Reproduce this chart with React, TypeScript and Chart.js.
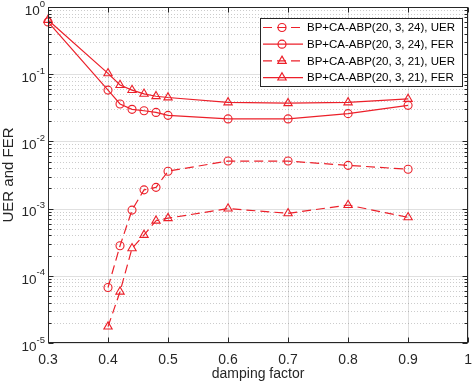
import React, { useEffect, useRef } from "react";
import { Chart, registerables } from "chart.js";

Chart.register(...registerables);

// ---- data ----
const dampingFactors = [0.3, 0.4, 0.42, 0.44, 0.46, 0.48, 0.5, 0.6, 0.7, 0.8, 0.9];
const uerDampingFactors = [0.4, 0.42, 0.44, 0.46, 0.48, 0.5, 0.6, 0.7, 0.8, 0.9];

const uer24 = [6.7e-5, 2.8e-4, 9.5e-4, 1.9e-3, 2.07e-3, 3.6e-3, 5.1e-3, 5.1e-3, 4.4e-3, 3.85e-3];
const fer24 = [0.6, 0.058, 0.036, 0.03, 0.0286, 0.027, 0.0244, 0.0216, 0.0216, 0.0259, 0.0344];
const uer21 = [1.75e-5, 5.8e-5, 2.56e-4, 4.05e-4, 6.6e-4, 7.2e-4, 1.0e-3, 8.5e-4, 1.13e-3, 7.4e-4];
const fer21 = [0.64, 0.103, 0.069, 0.058, 0.051, 0.047, 0.045, 0.038, 0.037, 0.038, 0.0428];

const seriesLabels = [
  "BP+CA-ABP(20, 3, 24), UER",
  "BP+CA-ABP(20, 3, 24), FER",
  "BP+CA-ABP(20, 3, 21), UER",
  "BP+CA-ABP(20, 3, 21), FER",
];

const xTicks = [0.3, 0.4, 0.5, 0.6, 0.7, 0.8, 0.9, 1.0];
const yDecades = [0, -1, -2, -3, -4, -5];

const xTitle = "damping factor";
const yTitle = "UER and FER";

// ---- styles ----
const RED = "rgb(236,32,42)";
const AXIS = "#262626";
const FONT = '"Liberation Sans", Arial, sans-serif';
const DASH = [9, 5];

const pts = (xs: number[], ys: number[]) => xs.map((x, i) => ({ x, y: ys[i] }));

const seriesStyles = [
  { dash: DASH, style: "circle", radius: 4 },
  { dash: [] as number[], style: "circle", radius: 4 },
  { dash: DASH, style: "triangle", radius: 4.8 },
  { dash: [] as number[], style: "triangle", radius: 4.8 },
];

function drawMarker(ctx: CanvasRenderingContext2D, style: string, x: number, y: number, r: number) {
  ctx.beginPath();
  if (style === "circle") {
    ctx.arc(x, y, r, 0, Math.PI * 2);
  } else {
    let rad = 0;
    ctx.moveTo(x + Math.sin(rad) * r, y - Math.cos(rad) * r);
    rad += (2 * Math.PI) / 3;
    ctx.lineTo(x + Math.sin(rad) * r, y - Math.cos(rad) * r);
    rad += (2 * Math.PI) / 3;
    ctx.lineTo(x + Math.sin(rad) * r, y - Math.cos(rad) * r);
    ctx.closePath();
  }
  ctx.stroke();
}

const matlabPlugin = {
  id: "matlabAxes",
  beforeDatasetsDraw(chart: any) {
    const { ctx, chartArea: a } = chart;
    const xs = chart.scales.x;
    const ys = chart.scales.y;
    ctx.save();
    ctx.lineWidth = 1;
    // minor y grid (dotted)
    ctx.strokeStyle = "rgba(0,0,0,0.2)";
    ctx.setLineDash([1, 2]);
    for (let e = -5; e < 0; e++) {
      for (let m = 2; m <= 9; m++) {
        const py = Math.round(ys.getPixelForValue(m * Math.pow(10, e))) + 0.5;
        ctx.beginPath();
        ctx.moveTo(a.left, py);
        ctx.lineTo(a.right, py);
        ctx.stroke();
      }
    }
    // major grid (solid)
    ctx.setLineDash([]);
    ctx.strokeStyle = "rgba(0,0,0,0.12)";
    for (const e of yDecades) {
      const py = Math.round(ys.getPixelForValue(Math.pow(10, e))) + 0.5;
      ctx.beginPath();
      ctx.moveTo(a.left, py);
      ctx.lineTo(a.right, py);
      ctx.stroke();
    }
    for (const v of xTicks) {
      const px = Math.round(xs.getPixelForValue(v)) + 0.5;
      ctx.beginPath();
      ctx.moveTo(px, a.top);
      ctx.lineTo(px, a.bottom);
      ctx.stroke();
    }
    ctx.restore();
  },
  afterDatasetsDraw(chart: any) {
    const { ctx, chartArea: a } = chart;
    const xs = chart.scales.x;
    const ys = chart.scales.y;
    ctx.save();
    ctx.setLineDash([]);
    ctx.strokeStyle = AXIS;
    ctx.lineWidth = 1;
    const L = Math.round(a.left) + 0.5;
    const R = Math.round(a.right) - 0.5;
    const T = Math.round(a.top) + 0.5;
    const B = Math.round(a.bottom) - 0.5;
    ctx.strokeRect(L, T, R - L, B - T);
    // x ticks
    ctx.beginPath();
    for (const v of xTicks) {
      const px = Math.round(xs.getPixelForValue(v)) + 0.5;
      ctx.moveTo(px, B);
      ctx.lineTo(px, B - 5);
      ctx.moveTo(px, T);
      ctx.lineTo(px, T + 5);
    }
    // y ticks
    for (let e = -5; e <= 0; e++) {
      const py = Math.round(ys.getPixelForValue(Math.pow(10, e))) + 0.5;
      ctx.moveTo(L, py);
      ctx.lineTo(L + 5, py);
      ctx.moveTo(R, py);
      ctx.lineTo(R - 5, py);
      if (e < 0) {
        for (let m = 2; m <= 9; m++) {
          const pm = Math.round(ys.getPixelForValue(m * Math.pow(10, e))) + 0.5;
          ctx.moveTo(L, pm);
          ctx.lineTo(L + 3, pm);
          ctx.moveTo(R, pm);
          ctx.lineTo(R - 3, pm);
        }
      }
    }
    ctx.stroke();

    // y tick labels 10^e
    ctx.fillStyle = AXIS;
    for (const e of yDecades) {
      const py = ys.getPixelForValue(Math.pow(10, e));
      const exp = e === 0 ? "0" : "-" + String(-e);
      ctx.font = `9.5px ${FONT}`;
      const ew = ctx.measureText(exp).width;
      const right = a.left - 3;
      ctx.textBaseline = "middle";
      ctx.textAlign = "left";
      ctx.fillText(exp, right - ew, py - 3);
      ctx.font = `13.5px ${FONT}`;
      ctx.textAlign = "right";
      ctx.fillText("10", right - ew, py + 4);
    }

    // legend
    const lx = 260.5, ly = 18.5, lw = 202, lh = 68;
    ctx.fillStyle = "#ffffff";
    ctx.fillRect(lx, ly, lw, lh);
    ctx.strokeStyle = AXIS;
    ctx.strokeRect(lx, ly, lw, lh);
    ctx.font = `11.5px ${FONT}`;
    ctx.textAlign = "left";
    ctx.textBaseline = "middle";
    seriesLabels.forEach((label, i) => {
      const cy = ly + 9 + i * 16.7;
      const st = seriesStyles[i];
      ctx.strokeStyle = RED;
      ctx.lineWidth = 1.2;
      ctx.setLineDash(st.dash);
      ctx.beginPath();
      ctx.moveTo(263, cy);
      ctx.lineTo(303, cy);
      ctx.stroke();
      ctx.setLineDash([]);
      drawMarker(ctx, st.style, 282, cy, st.radius);
      ctx.fillStyle = "#000";
      ctx.fillText(label, 307, cy + 0.5);
    });
    ctx.restore();
  },
};

export default function App() {
  const ref = useRef<HTMLCanvasElement | null>(null);
  useEffect(() => {
    if (!ref.current) return;
    const datasets = [
      { label: seriesLabels[0], data: pts(uerDampingFactors, uer24) },
      { label: seriesLabels[1], data: pts(dampingFactors, fer24) },
      { label: seriesLabels[2], data: pts(uerDampingFactors, uer21) },
      { label: seriesLabels[3], data: pts(dampingFactors, fer21) },
    ].map((d, i) => ({
      ...d,
      borderColor: RED,
      backgroundColor: "rgba(0,0,0,0)",
      borderWidth: 1.2,
      borderDash: seriesStyles[i].dash,
      pointStyle: seriesStyles[i].style,
      pointRadius: seriesStyles[i].radius,
      pointBorderWidth: 1.1,
      pointBorderColor: RED,
      pointBackgroundColor: "rgba(0,0,0,0)",
      tension: 0,
      clip: false as any,
    }));
    const chart = new Chart(ref.current, {
      type: "line",
      data: { datasets },
      plugins: [matlabPlugin],
      options: {
        animation: false,
        responsive: false,
        devicePixelRatio: 1,
        layout: { padding: { top: 7, right: 2, left: 0, bottom: 0 } },
        plugins: { legend: { display: false }, tooltip: { enabled: false } },
        scales: {
          x: {
            type: "linear",
            min: 0.3,
            max: 1.0,
            afterBuildTicks: (s: any) => {
              s.ticks = xTicks.map((v) => ({ value: v }));
            },
            afterFit: (s: any) => {
              s.height = 41;
              s.paddingLeft = 0;
              s.paddingRight = 0;
            },
            ticks: {
              autoSkip: false,
              maxRotation: 0,
              padding: 9,
              color: AXIS,
              font: { family: FONT, size: 14 },
              callback: (v: any) => (Number(v) === 1 ? "1" : Number(v).toFixed(1)),
            },
            grid: { display: false, drawTicks: false },
            border: { display: false },
            title: {
              display: true,
              text: xTitle,
              color: AXIS,
              font: { family: FONT, size: 14 },
              padding: { top: 0, bottom: 1 },
            },
          },
          y: {
            type: "logarithmic",
            min: 1e-5,
            max: 1,
            afterFit: (s: any) => {
              s.width = 48;
              s.paddingTop = 0;
              s.paddingBottom = 0;
            },
            ticks: { display: false },
            grid: { display: false, drawTicks: false },
            border: { display: false },
            title: {
              display: true,
              text: yTitle,
              color: AXIS,
              font: { family: FONT, size: 15 },
              padding: { top: 0, bottom: 0 },
            },
          },
        },
      } as any,
    });
    return () => chart.destroy();
  }, []);
  return (
    <div style={{ position: "absolute", left: 0, top: 0, width: 474, height: 384 }}>
      <canvas ref={ref} width={474} height={384} style={{ display: "block" }} />
    </div>
  );
}
